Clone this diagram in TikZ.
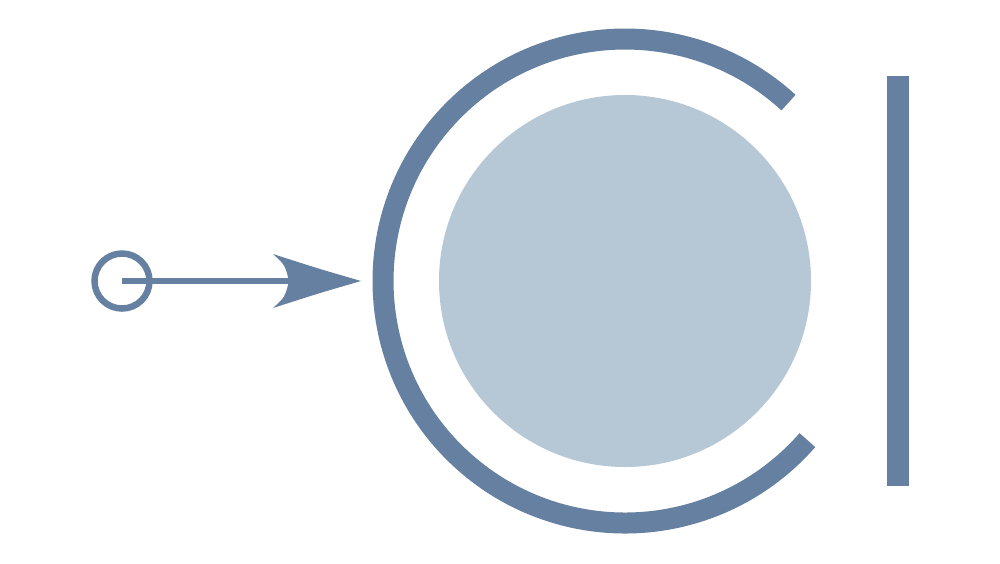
\documentclass[tikz,border=0pt]{standalone}
\begin{document}
\begin{tikzpicture}[x=0.01cm,y=-0.01cm,
  dark/.style={draw=darkblue},
  ring/.style={dark,line width=21*0.2845pt,line cap=butt},
  thin/.style={dark,line width=6.5*0.2845pt}]
\definecolor{darkblue}{HTML}{6580A0}
\definecolor{lightblue}{HTML}{B6C8D6}
\useasboundingbox (0,0) rectangle (1000,563);
\fill[white] (0,0) rectangle (1000,563);
% filled disc
\fill[lightblue] (625,281) circle[radius=186];
% big arc (opening to the right)
\coordinate (a0) at (788.5,102.6);
\draw[ring] (a0) arc[start angle=47.5,end angle=318.9,x radius=242,y radius=-242];
% vertical bar
\fill[darkblue] (887,76) rectangle (909,486);
% small circle and arrow
\node[thin,circle,minimum size=55*0.01cm,inner sep=0pt] (s) at (122,281) {};
\coordinate (tip) at (361,281);
\coordinate (notch) at (289,281);
\draw[thin] (s.center) -- (notch);
\fill[darkblue] (tip) .. controls (318,268.5) .. (273,254)
  .. controls (285,265) .. (notch)
  .. controls (285,297) .. (273,308)
  .. controls (318,293.5) .. (tip) -- cycle;
\end{tikzpicture}
\end{document}
